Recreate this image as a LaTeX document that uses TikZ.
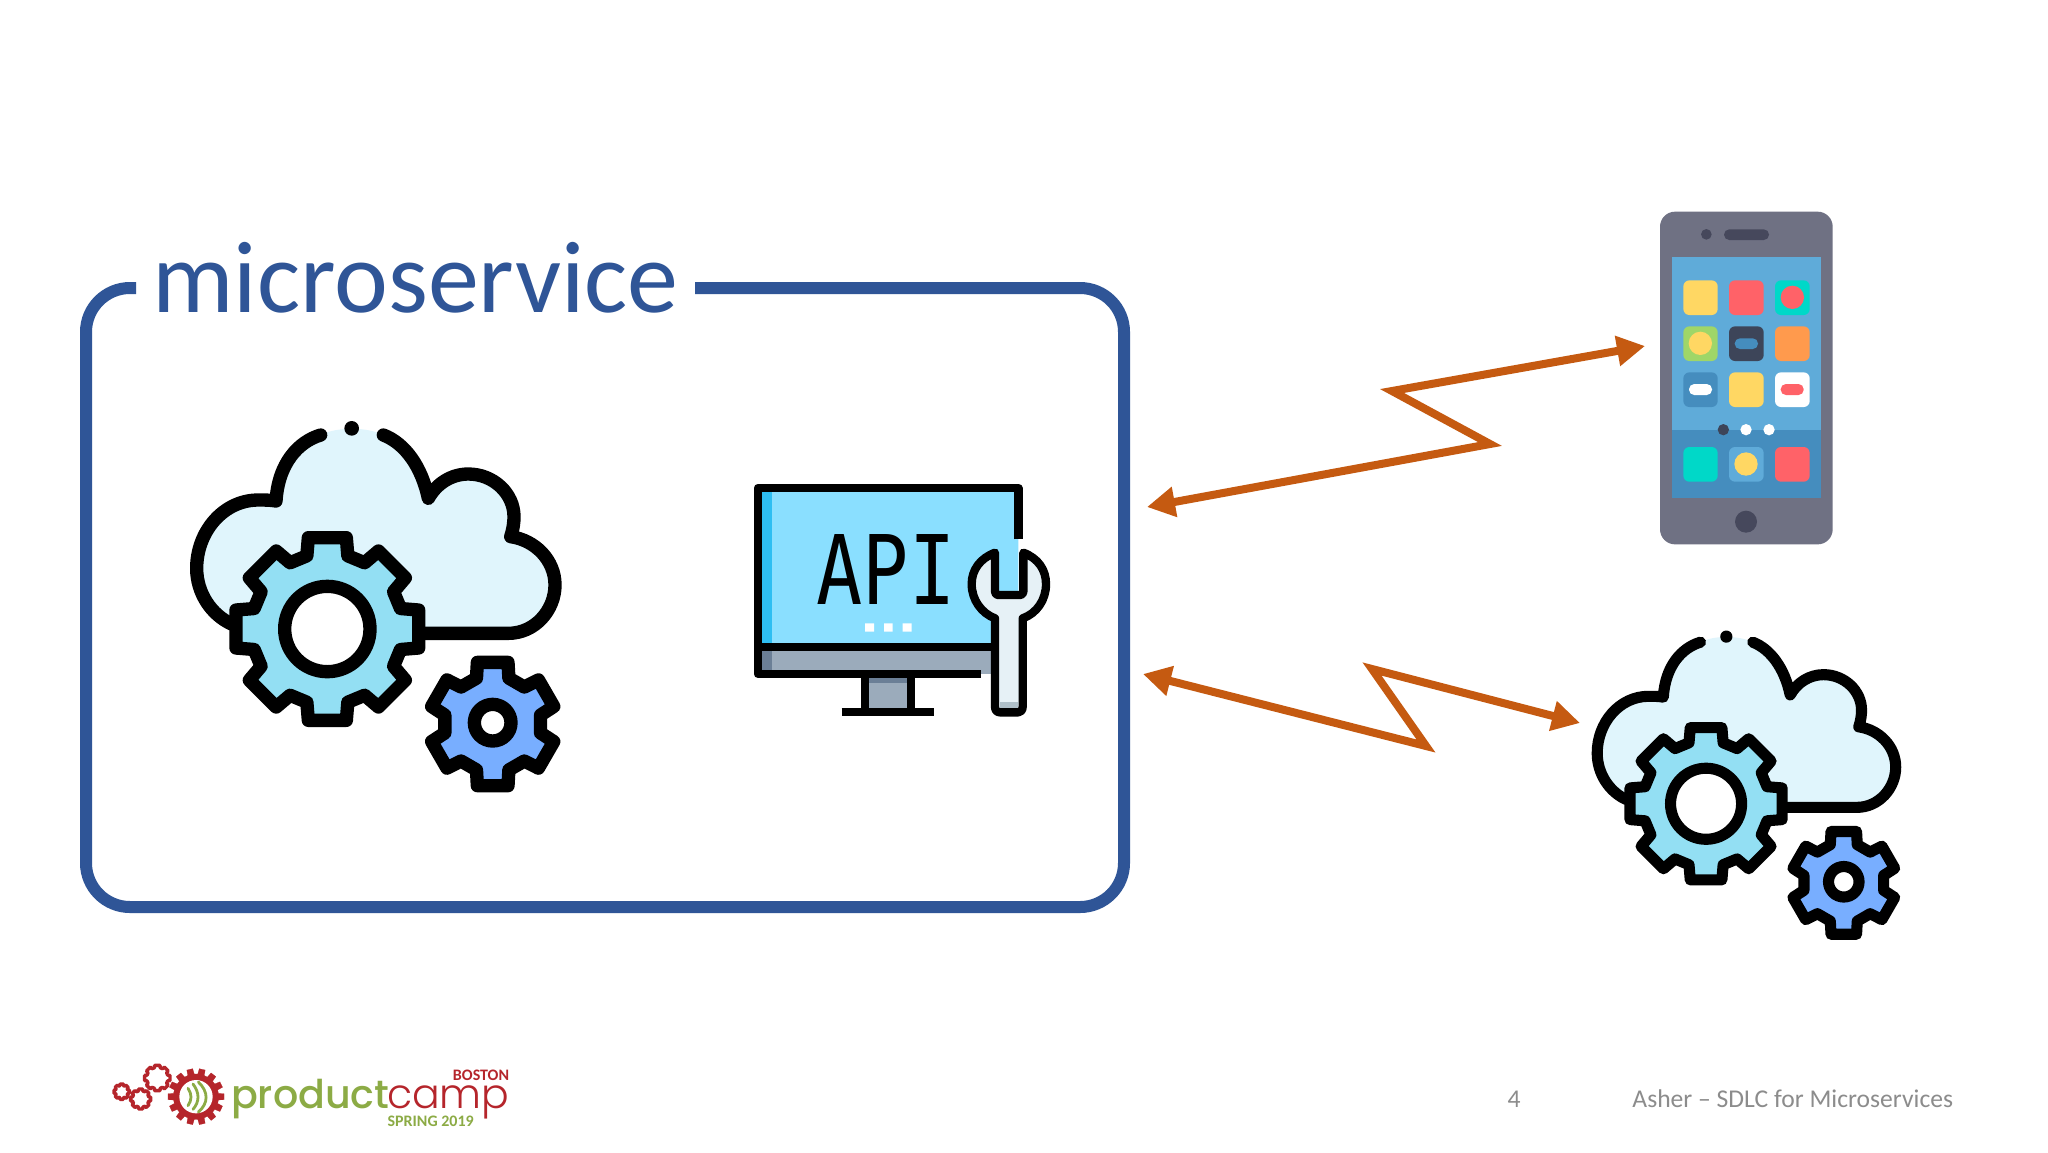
\documentclass[tikz,border=0pt]{standalone}
\usepackage{fontspec}
\usetikzlibrary{arrows.meta}
\setmainfont{Carlito}
\newfontfamily\logofont{Poppins}[UprightFont={* Medium}]
\newfontfamily\logolight{Poppins}[UprightFont={* Light}]
\newfontfamily\monofont{DejaVu Sans Mono}
\definecolor{boxblue}{HTML}{2F5597}
\definecolor{zigzag}{HTML}{C55A11}
\definecolor{cloudfill}{HTML}{E0F5FC}
\definecolor{gearA}{HTML}{93DFF3}
\definecolor{gearB}{HTML}{78AEFF}
\definecolor{scr}{HTML}{8ADFFF}
\definecolor{scrd}{HTML}{2EBEF2}
\definecolor{band}{HTML}{9BABBB}
\definecolor{bandd}{HTML}{6B7F96}
\definecolor{wrench}{HTML}{E6F1F6}
\definecolor{wrenchd}{HTML}{AFC0C9}
\definecolor{ph}{HTML}{6F7183}
\definecolor{phd}{HTML}{46485C}
\definecolor{phs}{HTML}{5FABD9}
\definecolor{phl}{HTML}{458DBE}
\definecolor{appy}{HTML}{FFD763}
\definecolor{appr}{HTML}{FF6268}
\definecolor{appt}{HTML}{00D8C8}
\definecolor{appg}{HTML}{9FD668}
\definecolor{appn}{HTML}{3D4559}
\definecolor{appo}{HTML}{FF9A4D}
\definecolor{logored}{HTML}{B5252B}
\definecolor{logogreen}{HTML}{8CAB45}
\definecolor{foot}{HTML}{8C8C8C}
\tikzset{
  zigline/.style={draw=zigzag,line width=4pt,miter limit=30,line join=miter,
    {Triangle[length=14pt,width=14.5pt]}-{Triangle[length=14pt,width=14.5pt]}},
  app/.style={rounded corners=3pt},
}
% gear: cx, cy, teeth, tip radius, half width, base radius, rotation, fill
\newcommand{\geardraw}[8]{%
  \pgfmathsetmacro{\gtt}{atan(#5/#4)}%
  \pgfmathsetmacro{\gtb}{atan(1.12*#5/#6)}%
  \pgfmathsetmacro{\gtr}{veclen(#4,#5)}%
  \begin{scope}[shift={(#1,#2)}]
  \filldraw[fill=#8] ({#7+\gtb}:#6)
    \foreach \gi [evaluate=\gi as \ga using {\gi*360/#3+#7}] in {1,...,#3} {
      -- ({\ga-\gtb}:#6) -- ({\ga-\gtt}:\gtr) -- ({\ga+\gtt}:\gtr) -- ({\ga+\gtb}:#6)
    } -- cycle;
  \end{scope}}
\newcommand{\cloudicon}[3]{%
  \begin{scope}[shift={(#1,#2)},x={0.16667*#3*1pt},y={-0.16667*#3*1pt},
     line width={6.67*#3*1pt},line join=round,line cap=round]
  \fill[cloudfill] (452,105) .. controls (500,80) and (590,80) .. (640,105)
    .. controls (705,130) and (755,200) .. (775,295)
    .. controls (800,250) and (845,222) .. (895,222)
    .. controls (970,222) and (1032,280) .. (1032,350)
    .. controls (1032,365) and (1030,385) .. (1022,410)
    .. controls (1095,420) and (1155,480) .. (1155,555)
    .. controls (1155,630) and (1095,700) .. (1015,700)
    -- (250,700) -- (185,672)
    .. controls (125,645) and (80,580) .. (80,505)
    .. controls (80,395) and (160,300) .. (265,300)
    .. controls (285,300) and (300,300) .. (318,303)
    .. controls (325,190) and (385,125) .. (452,105) -- cycle;
  \draw (452,105) .. controls (385,125) and (325,190) .. (318,303)
    .. controls (300,300) and (285,300) .. (265,300)
    .. controls (160,300) and (80,395) .. (80,505)
    .. controls (80,580) and (125,645) .. (185,672);
  \draw (700,700) -- (1015,700)
    .. controls (1095,700) and (1155,630) .. (1155,555)
    .. controls (1155,480) and (1095,420) .. (1022,410)
    .. controls (1030,385) and (1032,365) .. (1032,350)
    .. controls (1032,280) and (970,222) .. (895,222)
    .. controls (845,222) and (800,250) .. (775,295)
    .. controls (755,200) and (705,130) .. (640,105);
  \fill (545,85) circle (22);
  \geardraw{472}{687}{8}{274}{57}{228}{0}{gearA}
  \filldraw[fill=white] (472,687) circle (128);
  \geardraw{968}{972}{6}{185}{46}{146}{30}{gearB}
  \filldraw[fill=white] (968,968) circle (55);
  \end{scope}}
\begin{document}
\begin{tikzpicture}[x=0.5pt,y=-0.5pt]
\useasboundingbox (0,0) rectangle (2048,1152);
\fill[white] (0,0) rectangle (2048,1152);

% microservice frame
\draw[boxblue,line width=6pt,rounded corners=22pt]
  (136,288) -- (86,288) -- (86,907) -- (1124,907) -- (1124,288) -- (695,288);
\node[text=boxblue,font=\fontsize{51}{60}\selectfont,inner sep=0pt,anchor=base west] (title) at (152,312) {microservice};

% icons
\cloudicon{170}{400}{1}
\cloudicon{1575}{613}{0.833}

% monitor
\begin{scope}[shift={(730,460)},x=0.16667pt,y=-0.16667pt]
  \fill[scr] (84,84) -- (865,84) -- (865,395) -- (790,395) -- (785,560) -- (84,560) -- cycle;
  \fill[scrd] (84,84) rectangle (127,560);
  \fill[band] (84,560) rectangle (785,642);
  \fill[bandd] (84,560) rectangle (127,642);
  \fill[band] (405,642) rectangle (542,755);
  \fill[bandd] (405,642) rectangle (542,668);
  \draw[line width=4.17pt,line join=round] (865,238) -- (865,84) -- (84,84) -- (84,642) -- (753,642);
  \draw[line width=4.17pt] (84,560) -- (785,560);
  \draw[line width=4.17pt] (405,650) -- (405,755) (542,650) -- (542,755) (335,755) -- (613,755);
  \node[font=\monofont\fontsize{48}{48}\selectfont,inner sep=0pt,anchor=base,xscale=0.8] (apitext) at (468,432) {API};
  \fill[white] (405,490) rectangle (432,515) (462,490) rectangle (488,515) (518,490) rectangle (545,515);
  \filldraw[fill=wrench,line width=4.17pt,line join=round]
    (795,278) .. controls (750,295) and (725,330) .. (725,372)
    .. controls (725,420) and (755,460) .. (795,475)
    -- (795,740) .. controls (795,750) and (800,757) .. (810,757) -- (865,757)
    .. controls (872,757) and (878,750) .. (878,740) -- (878,475)
    .. controls (920,460) and (948,420) .. (948,372)
    .. controls (948,330) and (925,295) .. (880,278)
    -- (880,395) .. controls (880,402) and (875,405) .. (870,405) -- (805,405)
    .. controls (800,405) and (795,402) .. (795,395) -- cycle;
  \fill[wrenchd] (810,725) rectangle (864,743);
\end{scope}

% phone
\begin{scope}[shift={(1640,200)},x=0.16667pt,y=-0.16667pt]
  \fill[ph,rounded corners=7.5pt] (60,35) rectangle (578,1033);
  \fill[phs] (95,172) rectangle (543,895);
  \fill[phl] (95,690) rectangle (543,895);
  \fill[phd,rounded corners=2.6pt] (252,88) rectangle (387,120);
  \fill[phd] (199,103) circle (16);
  \fill[phd] (318,965) circle (33);
  \fill[app,appy] (130,241) rectangle (233,345);
  \fill[app,appr] (267,241) rectangle (371,345);
  \fill[app,appt] (405,241) rectangle (509,345);
  \fill[appr] (457,292) circle (35);
  \fill[app,appg] (130,379) rectangle (233,483);
  \fill[appy] (181,430) circle (35);
  \fill[app,appn] (267,379) rectangle (371,483);
  \fill[phl,rounded corners=2.6pt] (284,415) rectangle (354,447);
  \fill[app,appo] (405,379) rectangle (509,483);
  \fill[app,phl] (130,517) rectangle (233,621);
  \fill[white,rounded corners=2.6pt] (147,552) rectangle (216,585);
  \fill[app,appy] (267,517) rectangle (371,621);
  \fill[app,white] (405,517) rectangle (509,621);
  \fill[appr,rounded corners=2.6pt] (422,552) rectangle (491,585);
  \fill[appn] (250,689) circle (17);
  \fill[white] (318,689) circle (17) (387,689) circle (17);
  \fill[app,appt] (130,741) rectangle (233,845);
  \fill[app,phs] (267,741) rectangle (371,845);
  \fill[appy] (318,792) circle (35);
  \fill[app,appr] (405,741) rectangle (509,845);
\end{scope}

% zigzag connectors
\coordinate (z1a) at (1147,507);
\coordinate (z1b) at (1490,444);
\coordinate (z1c) at (1392,391);
\coordinate (z1d) at (1645,346);
\coordinate (z2a) at (1143,674);
\coordinate (z2b) at (1426,746);
\coordinate (z2c) at (1372,669);
\coordinate (z2d) at (1580,723);
\path[zigline] (z1a) -- (z1b) -- (z1c) -- (z1d);
\path[zigline] (z2a) -- (z2b) -- (z2c) -- (z2d);

% logo
\begin{scope}[shift={(90,1050)},x=0.16667pt,y=-0.16667pt]
  \begin{scope}[draw=logored,line width=1.7pt,line join=round]
    \geardraw{95}{125}{8}{23}{5}{19}{0}{white}
    \geardraw{152}{147}{8}{30}{6}{25}{0}{white}
    \geardraw{202}{84}{8}{38}{8}{32}{0}{white}
  \end{scope}
  \begin{scope}[draw=logored,line width=0.1pt]
    \geardraw{318}{140}{14}{84}{9}{68}{0}{logored}
  \end{scope}
  \fill[white] (318,140) circle (50);
  \draw[logogreen,line width=1.4pt,line cap=round]
    (294,115) .. controls (306,132) and (306,150) .. (294,167)
    (309,102) .. controls (329,128) and (329,155) .. (309,178)
    (325,96) .. controls (356,125) and (356,160) .. (325,186);
  \node[font=\logofont\fontsize{19.8}{19}\selectfont,text=logogreen,inner sep=0pt,anchor=base west] (logoproduct) at (422,175) {product};
  \node[font=\logolight\fontsize{20.5}{20}\selectfont,text=logored,inner sep=0pt,anchor=base west] (logocamp) at (890,175) {camp};
  \node[font=\bfseries\fontsize{8}{8}\selectfont,text=logored,inner sep=0pt,anchor=base] (logoboston) at (1173,90) {BOSTON};
  \node[font=\bfseries\fontsize{8}{8}\selectfont,text=logogreen,inner sep=0pt,anchor=base] (logospring) at (1022,230) {SPRING 2019};
\end{scope}

% footer
\node[text=foot,font=\fontsize{12.8}{14}\selectfont,inner sep=0pt] (pagenum) at (1514,1099) {4};
\node[text=foot,font=\fontsize{12.8}{14}\selectfont,inner sep=0pt,anchor=west] (footer) at (1632,1099) {Asher – SDLC for Microservices};
\end{tikzpicture}
\end{document}
